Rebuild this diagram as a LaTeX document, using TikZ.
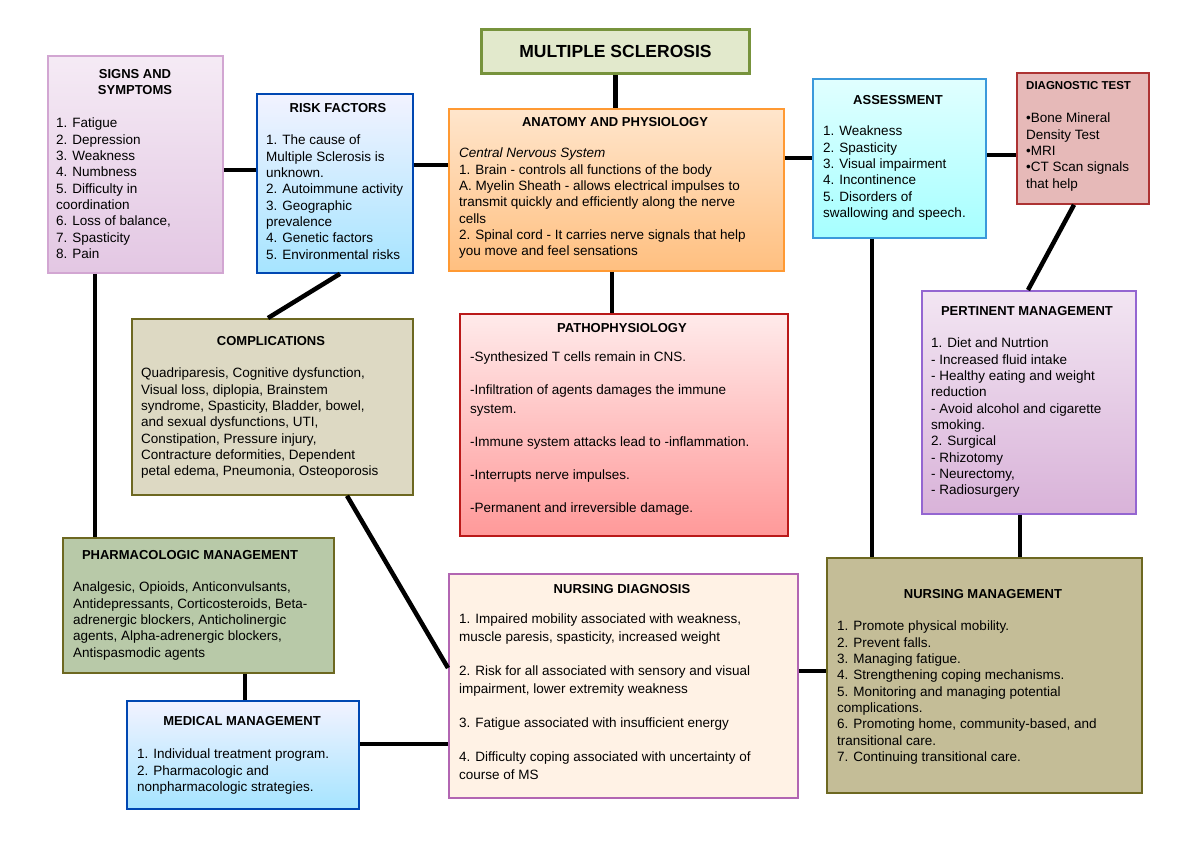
\documentclass[tikz,border=0pt]{standalone}
\usepackage{fontspec}
\setmainfont{Liberation Sans}
\usetikzlibrary{calc}
\begin{document}
\begin{tikzpicture}[x=1pt,y=-1pt,
 box/.style={draw,line width=1.8pt,anchor=north west,inner sep=0pt},
 con/.style={line width=4.5pt,black},
 ttl/.style={font=\fontsize{13}{15.5}\selectfont\bfseries,align=center,inner sep=0pt},
 bd/.style={font=\fontsize{13.5}{16.3}\selectfont,align=left,anchor=north west,inner sep=0pt}]
\definecolor{olv}{HTML}{77933C}
\definecolor{cofill}{HTML}{DDD9C3}
\definecolor{nmfill}{HTML}{C4BD97}
\definecolor{dtfill}{HTML}{E6B9B8}
\definecolor{phfill}{HTML}{B8C9A8}
\useasboundingbox[fill=white] (0,0) rectangle (1200,849);
% boxes
\node[box,draw=olv,line width=3pt,fill=green!12!olive!20!white,minimum width=268,minimum height=44] (t) at (480,28) {};
\node[font=\fontsize{17.5}{20}\selectfont\bfseries] at (t.center) {MULTIPLE SCLEROSIS};
\node[box,draw=violet!35,top color=violet!8,bottom color=violet!22,minimum width=175,minimum height=217] (ss) at (47,55) {};
\node[box,draw=blue!60!cyan!70!black,top color=blue!5,bottom color=blue!30!cyan!35,minimum width=156,minimum height=179] (rf) at (256,93) {};
\node[box,draw=orange!80,top color=orange!20,bottom color=orange!50,minimum width=335,minimum height=162] (an) at (448,108) {};
\node[box,draw=cyan!70!blue!80,top color=cyan!12,bottom color=cyan!35,minimum width=173,minimum height=159] (as) at (812,78) {};
\node[box,draw=red!60!black!80,fill=dtfill,minimum width=132,minimum height=131] (dt) at (1016,72) {};
\node[box,draw=violet!60!blue!60,top color=violet!10,bottom color=violet!30,minimum width=214,minimum height=223] (pm) at (921,290) {};
\node[box,draw=olive!70!black,fill=cofill,minimum width=281,minimum height=176] (co) at (131,318) {};
\node[box,draw=red!70!black!90,top color=red!8,bottom color=red!40,minimum width=328,minimum height=222] (pp) at (459,313) {};
\node[box,draw=olive!70!black,fill=phfill,minimum width=271,minimum height=135] (ph) at (62,537) {};
\node[box,draw=blue!60!cyan!70!black,top color=blue!5,bottom color=blue!30!cyan!35,minimum width=232,minimum height=108] (md) at (126,700) {};
\node[box,draw=violet!60,fill=orange!10,minimum width=349,minimum height=224] (nd) at (448,573) {};
\node[box,draw=olive!70!black,fill=nmfill,minimum width=315,minimum height=235] (nm) at (826,557) {};
% connectors
\draw[con] (t.south) -- (an.north -| t.south);
\draw[con] ($(ss.north east)+(0,115)$) -- ($(rf.north west)+(0,77)$);
\draw[con] ($(rf.north east)+(0,72)$) -- ($(an.north west)+(0,57)$);
\draw[con] ($(an.north east)+(0,50)$) -- ($(as.north west)+(0,80)$);
\draw[con] ($(as.north east)+(0,77)$) -- ($(dt.north west)+(0,83)$);
\draw[con] ($(an.south west)+(164,0)$) -- ($(pp.north west)+(153,0)$);
\draw[con] ($(co.north west)+(137,0)$) -- ($(rf.south west)+(84,0)$);
\draw[con] ($(dt.south west)+(58,0)$) -- ($(pm.north west)+(107,0)$);
\draw[con] ($(ss.south west)+(48,0)$) -- ($(ph.north west)+(33,0)$);
\draw[con] ($(co.south west)+(216,0)$) -- ($(nd.north west)+(0,95)$);
\draw[con] ($(ph.south west)+(183,0)$) -- ($(md.north west)+(119,0)$);
\draw[con] ($(md.north east)+(0,44)$) -- ($(nd.north west)+(0,171)$);
\draw[con] ($(nd.north east)+(0,98)$) -- ($(nm.north west)+(0,114)$);
\draw[con] ($(as.south west)+(60,0)$) -- ($(nm.north west)+(46,0)$);
\draw[con] ($(pm.south west)+(99,0)$) -- ($(nm.north west)+(194,0)$);
% texts
\node[ttl] at (135,82) {SIGNS AND\\SYMPTOMS};
\node[bd] at (56,118) {1. Fatigue\\2. Depression\\3. Weakness\\4. Numbness\\5. Difficulty in\\coordination\\6. Loss of balance,\\7. Spasticity\\8. Pain};
\node[ttl] at (338,108) {RISK FACTORS};
\node[bd] at (266,135) {1. The cause of\\Multiple Sclerosis is\\unknown.\\2. Autoimmune activity\\3. Geographic\\prevalence\\4. Genetic factors\\5. Environmental risks};
\node[ttl] at (615,122) {ANATOMY AND PHYSIOLOGY};
\node[bd] at (459,148) {\itshape Central Nervous System\\1. Brain - controls all functions of the body\\A. Myelin Sheath - allows electrical impulses to\\transmit quickly and efficiently along the nerve\\cells\\2. Spinal cord - It carries nerve signals that help\\you move and feel sensations};
\node[ttl] at (898,100) {ASSESSMENT};
\node[bd] at (823,126) {1. Weakness\\2. Spasticity\\3. Visual impairment\\4. Incontinence\\5. Disorders of\\swallowing and speech.};
\node[ttl,font=\fontsize{11.5}{13}\selectfont\bfseries,anchor=north west] at (1026,81) {DIAGNOSTIC TEST};
\node[bd] at (1026,113) {•Bone Mineral\\Density Test\\•MRI\\•CT Scan signals\\that help};
\node[ttl] at (1027,311) {PERTINENT MANAGEMENT};
\node[bd] at (931,338) {1. Diet and Nutrtion\\- Increased fluid intake\\- Healthy eating and weight\\reduction\\- Avoid alcohol and cigarette\\smoking.\\2. Surgical\\- Rhizotomy\\- Neurectomy,\\- Radiosurgery};
\node[ttl] at (271,341) {COMPLICATIONS};
\node[bd] at (141,368) {Quadriparesis, Cognitive dysfunction,\\Visual loss, diplopia, Brainstem\\syndrome, Spasticity, Bladder, bowel,\\and sexual dysfunctions, UTI,\\Constipation, Pressure injury,\\Contracture deformities, Dependent\\petal edema, Pneumonia, Osteoporosis};
\node[ttl] at (622,328) {PATHOPHYSIOLOGY};
\node[bd,font=\fontsize{13.5}{19}\selectfont] at (470,352) {-Synthesized T cells remain in CNS.\\[14pt]-Infiltration of agents damages the immune\\system.\\[14pt]-Immune system attacks lead to -inflammation.\\[14pt]-Interrupts nerve impulses.\\[14pt]-Permanent and irreversible damage.};
\node[ttl] at (190,555) {PHARMACOLOGIC MANAGEMENT};
\node[bd] at (73,582) {Analgesic, Opioids, Anticonvulsants,\\Antidepressants, Corticosteroids, Beta-\\adrenergic blockers, Anticholinergic\\agents, Alpha-adrenergic blockers,\\Antispasmodic agents};
\node[ttl] at (242,721) {MEDICAL MANAGEMENT};
\node[bd] at (137,749) {1. Individual treatment program.\\2. Pharmacologic and\\nonpharmacologic strategies.};
\node[ttl] at (622,589) {NURSING DIAGNOSIS};
\node[bd,font=\fontsize{13.5}{18}\selectfont] at (459,614) {1. Impaired mobility associated with weakness,\\muscle paresis, spasticity, increased weight\\[16pt]2. Risk for all associated with sensory and visual\\impairment, lower extremity weakness\\[16pt]3. Fatigue associated with insufficient energy\\[16pt]4. Difficulty coping associated with uncertainty of\\course of MS};
\node[ttl] at (983,594) {NURSING MANAGEMENT};
\node[bd] at (837,621) {1. Promote physical mobility.\\2. Prevent falls.\\3. Managing fatigue.\\4. Strengthening coping mechanisms.\\5. Monitoring and managing potential\\complications.\\6. Promoting home, community-based, and\\transitional care.\\7. Continuing transitional care.};
\end{tikzpicture}
\end{document}
